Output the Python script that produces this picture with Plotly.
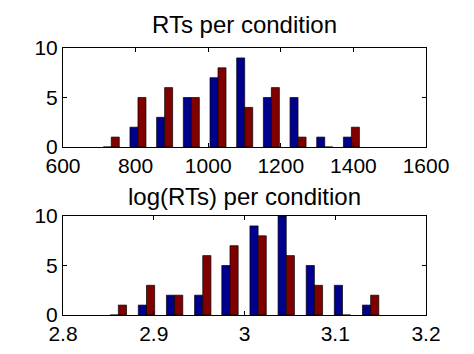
import plotly.graph_objects as go

# Top histogram: RTs
rt_centers = [733, 806.5, 880, 953.5, 1027, 1100.5, 1174, 1247.5, 1321, 1394.5]
rt_blue = [0, 2, 3, 5, 7, 9, 5, 5, 1, 1]
rt_red = [1, 5, 6, 5, 8, 4, 6, 1, 0, 2]

# Bottom histogram: log(RTs)
log_centers = [2.861, 2.892, 2.923, 2.954, 2.984, 3.015, 3.046, 3.077, 3.108, 3.139]
log_blue = [0, 1, 2, 2, 5, 9, 10, 5, 3, 1]
log_red = [1, 3, 2, 6, 7, 8, 6, 3, 0, 2]

top_xticks = [600, 800, 1000, 1200, 1400, 1600]
top_xlabels = ["600", "800", "1000", "1200", "1400", "1600"]
bot_xticks = [2.8, 2.9, 3.0, 3.1, 3.2]
bot_xlabels = ["2.8", "2.9", "3", "3.1", "3.2"]
yticks = [0, 5, 10]

titles = ["RTs per condition", "log(RTs) per condition"]

BLUE = "#00008F"
RED = "#800000"
FONT = "Liberation Sans, Arial, sans-serif"

fig = go.Figure()
edge = dict(color="#000000", width=0.7)
fig.add_trace(go.Bar(x=rt_centers, y=rt_blue, marker=dict(color=BLUE, line=edge), xaxis="x", yaxis="y", offsetgroup="a"))
fig.add_trace(go.Bar(x=rt_centers, y=rt_red, marker=dict(color=RED, line=edge), xaxis="x", yaxis="y", offsetgroup="b"))
fig.add_trace(go.Bar(x=log_centers, y=log_blue, marker=dict(color=BLUE, line=edge), xaxis="x2", yaxis="y2", offsetgroup="a"))
fig.add_trace(go.Bar(x=log_centers, y=log_red, marker=dict(color=RED, line=edge), xaxis="x2", yaxis="y2", offsetgroup="b"))

W, H = 474, 354
xd = [63 / W, 426 / W]
yd_top = [(H - 147) / H, (H - 48) / H]
yd_bot = [(H - 315) / H, (H - 216) / H]

axcommon = dict(showline=True, linecolor="#000000", linewidth=1, mirror="ticks",
                ticks="inside", ticklen=4, tickcolor="#000000", showgrid=False,
                zeroline=False, automargin=False,
                tickfont=dict(family=FONT, size=21, color="#000000"))

fig.update_layout(
    width=W, height=H, margin=dict(l=0, r=0, t=0, b=0, pad=0, autoexpand=False),
    autosize=False,
    paper_bgcolor="white", plot_bgcolor="white", showlegend=False,
    barmode="group", bargap=0.4, bargroupgap=0,
    font=dict(family=FONT, color="#000000"),
    xaxis=dict(domain=xd, anchor="y", range=[600, 1600], tickvals=top_xticks, ticktext=top_xlabels, **axcommon),
    yaxis=dict(domain=yd_top, anchor="x", range=[0, 10], tickvals=yticks, **axcommon),
    xaxis2=dict(domain=xd, anchor="y2", range=[2.8, 3.2], tickvals=bot_xticks, ticktext=bot_xlabels, **axcommon),
    yaxis2=dict(domain=yd_bot, anchor="x2", range=[0, 10], tickvals=yticks, **axcommon),
    annotations=[
        dict(text=titles[0], x=(xd[0] + xd[1]) / 2, y=(H - 25) / H, xref="paper", yref="paper",
             xanchor="center", yanchor="middle", showarrow=False, font=dict(family=FONT, size=24, color="#000000")),
        dict(text=titles[1], x=(xd[0] + xd[1]) / 2, y=(H - 196) / H, xref="paper", yref="paper",
             xanchor="center", yanchor="middle", showarrow=False, font=dict(family=FONT, size=24, color="#000000")),
    ],
)

fig.write_html("out.html")
